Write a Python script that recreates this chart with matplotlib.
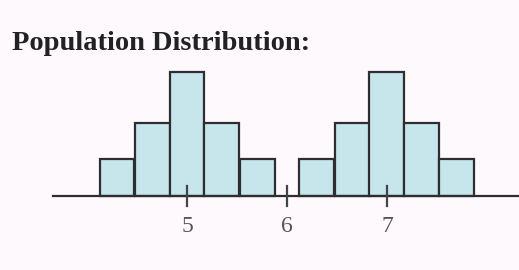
import matplotlib
matplotlib.use("Agg")
import matplotlib.pyplot as plt

# population distribution: two symmetric clusters
left_centers = [4.3, 4.65, 5.0, 5.35, 5.7]
right_centers = [6.3, 6.65, 7.0, 7.35, 7.7]
heights = [1, 2, 3.4, 2, 1]
tick_values = [5, 6, 7]
tick_labels = ["5", "6", "7"]

BAR_W = 0.35
FILL = "#c6e6ec"
EDGE = "#2e2e2e"
BG = "#fdf9fd"

fig = plt.figure(figsize=(5.19, 2.70), dpi=100, facecolor=BG)
ax = fig.add_axes([0, 0, 1, 1])
ax.set_facecolor(BG)
ax.set_xlim(3.13, 8.32)
ax.set_ylim(-2.03, 5.37)
ax.axis("off")

ax.bar(left_centers, heights, width=BAR_W, color=FILL, edgecolor=EDGE, linewidth=1.6, zorder=2)
ax.bar(right_centers, heights, width=BAR_W, color=FILL, edgecolor=EDGE, linewidth=1.6, zorder=2)

# number line
ax.plot([3.66, 8.32], [0, 0], color=EDGE, linewidth=1.6, zorder=3)
for v, lab in zip(tick_values, tick_labels):
    ax.plot([v, v], [-0.28, 0.28], color="#444444", linewidth=1.6, zorder=4)
    ax.text(v, -0.85, lab, ha="center", va="center", fontsize=17,
            family="Liberation Serif", color="#555555")

fig.text(12 / 519, 1 - 43 / 270, "Population Distribution:", ha="left", va="center",
         fontsize=20.5, fontweight="bold", family="Liberation Serif", color="#222222")

fig.savefig("out.png", dpi=100, facecolor=BG)
